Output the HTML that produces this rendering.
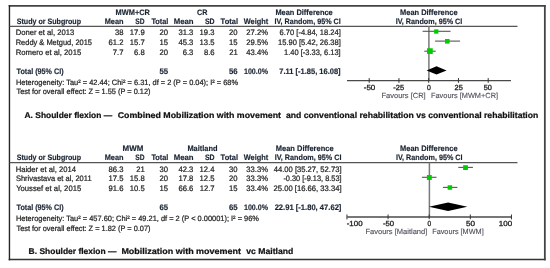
<!DOCTYPE html>
<html><head><meta charset="utf-8"><title>Forest plots</title>
<style>
html,body{margin:0;padding:0;background:#fff;}
body{width:550px;height:268px;overflow:hidden;}
svg{display:block;}
text{font-family:"Liberation Sans",Arial,sans-serif;text-rendering:geometricPrecision;}
</style></head><body>
<svg width="550" height="268" viewBox="0 0 550 268">
<rect x="0" y="0" width="550" height="268" fill="#fff"/>
<path d="M8.7 5.9H545.7" stroke="#444" stroke-width="1.8"/>
<path d="M8.7 259.6H545.7" stroke="#333" stroke-width="1.5"/>
<path d="M9.45 5V260.35" stroke="#262626" stroke-width="1.4"/>
<path d="M544.85 5V260.35" stroke="#444" stroke-width="1.8"/>
<text x="115.61" y="14.50" font-size="7.85" font-weight="bold" stroke="#1b2433" stroke-width="0.16" fill="#1b2433" textLength="34.25" lengthAdjust="spacingAndGlyphs">MWM+CR</text>
<text x="197.00" y="14.50" font-size="7.85" font-weight="bold" stroke="#1b2433" stroke-width="0.16" fill="#1b2433" textLength="10.45" lengthAdjust="spacingAndGlyphs">CR</text>
<text x="275.40" y="14.50" font-size="7.85" font-weight="bold" stroke="#1b2433" stroke-width="0.16" fill="#1b2433" textLength="57.35" lengthAdjust="spacingAndGlyphs">Mean Difference</text>
<text x="400.10" y="14.50" font-size="7.85" font-weight="bold" stroke="#1b2433" stroke-width="0.16" fill="#1b2433" textLength="57.45" lengthAdjust="spacingAndGlyphs">Mean Difference</text>
<text x="16.79" y="23.90" font-size="7.85" font-weight="bold" stroke="#1b2433" stroke-width="0.16" fill="#1b2433" textLength="64.19" lengthAdjust="spacingAndGlyphs">Study or Subgroup</text>
<text x="104.71" y="23.90" font-size="7.85" font-weight="bold" stroke="#1b2433" stroke-width="0.16" fill="#1b2433" textLength="18.85" lengthAdjust="spacingAndGlyphs">Mean</text>
<text x="135.31" y="23.90" font-size="7.85" font-weight="bold" stroke="#1b2433" stroke-width="0.16" fill="#1b2433" textLength="9.28" lengthAdjust="spacingAndGlyphs">SD</text>
<text x="151.42" y="23.90" font-size="7.85" font-weight="bold" stroke="#1b2433" stroke-width="0.16" fill="#1b2433" textLength="17.00" lengthAdjust="spacingAndGlyphs">Total</text>
<text x="173.68" y="23.90" font-size="7.85" font-weight="bold" stroke="#1b2433" stroke-width="0.16" fill="#1b2433" textLength="19.91" lengthAdjust="spacingAndGlyphs">Mean</text>
<text x="204.90" y="23.90" font-size="7.85" font-weight="bold" stroke="#1b2433" stroke-width="0.16" fill="#1b2433" textLength="9.70" lengthAdjust="spacingAndGlyphs">SD</text>
<text x="220.62" y="23.90" font-size="7.85" font-weight="bold" stroke="#1b2433" stroke-width="0.16" fill="#1b2433" textLength="17.41" lengthAdjust="spacingAndGlyphs">Total</text>
<text x="243.69" y="23.90" font-size="7.85" font-weight="bold" stroke="#1b2433" stroke-width="0.16" fill="#1b2433" textLength="24.50" lengthAdjust="spacingAndGlyphs">Weight</text>
<text x="274.42" y="23.90" font-size="7.85" font-weight="bold" stroke="#1b2433" stroke-width="0.16" fill="#1b2433" textLength="66.26" lengthAdjust="spacingAndGlyphs">IV, Random, 95% CI</text>
<text x="395.72" y="23.90" font-size="7.85" font-weight="bold" stroke="#1b2433" stroke-width="0.16" fill="#1b2433" textLength="66.56" lengthAdjust="spacingAndGlyphs">IV, Random, 95% CI</text>
<line x1="9.5" y1="26.3" x2="517.5" y2="26.3" stroke="#555" stroke-width="1.3"/>
<text x="15.67" y="35.30" font-size="7.9" stroke="#222" stroke-width="0.22" fill="#222" textLength="58.66" lengthAdjust="spacingAndGlyphs">Doner et al, 2013</text>
<text x="114.91" y="35.30" font-size="7.9" stroke="#222" stroke-width="0.22" fill="#222" textLength="8.52" lengthAdjust="spacingAndGlyphs">38</text>
<text x="129.85" y="35.30" font-size="7.9" stroke="#222" stroke-width="0.22" fill="#222" textLength="14.91" lengthAdjust="spacingAndGlyphs">17.9</text>
<text x="159.58" y="35.30" font-size="7.9" stroke="#222" stroke-width="0.22" fill="#222" textLength="8.52" lengthAdjust="spacingAndGlyphs">20</text>
<text x="178.42" y="35.30" font-size="7.9" stroke="#222" stroke-width="0.22" fill="#222" textLength="14.91" lengthAdjust="spacingAndGlyphs">31.3</text>
<text x="199.62" y="35.30" font-size="7.9" stroke="#222" stroke-width="0.22" fill="#222" textLength="14.91" lengthAdjust="spacingAndGlyphs">19.3</text>
<text x="229.08" y="35.30" font-size="7.9" stroke="#222" stroke-width="0.22" fill="#222" textLength="8.52" lengthAdjust="spacingAndGlyphs">20</text>
<text x="246.34" y="35.30" font-size="7.9" stroke="#222" stroke-width="0.22" fill="#222" textLength="21.73" lengthAdjust="spacingAndGlyphs">27.2%</text>
<text x="279.52" y="35.30" font-size="7.9" stroke="#222" stroke-width="0.22" fill="#222" textLength="61.22" lengthAdjust="spacingAndGlyphs">6.70 [-4.84, 18.24]</text>
<text x="15.69" y="45.00" font-size="7.9" stroke="#222" stroke-width="0.22" fill="#222" textLength="76.33" lengthAdjust="spacingAndGlyphs">Reddy &amp; Metgud, 2015</text>
<text x="108.57" y="45.00" font-size="7.9" stroke="#222" stroke-width="0.22" fill="#222" textLength="14.91" lengthAdjust="spacingAndGlyphs">61.2</text>
<text x="129.87" y="45.00" font-size="7.9" stroke="#222" stroke-width="0.22" fill="#222" textLength="14.91" lengthAdjust="spacingAndGlyphs">15.7</text>
<text x="159.60" y="45.00" font-size="7.9" stroke="#222" stroke-width="0.22" fill="#222" textLength="8.52" lengthAdjust="spacingAndGlyphs">15</text>
<text x="178.42" y="45.00" font-size="7.9" stroke="#222" stroke-width="0.22" fill="#222" textLength="14.91" lengthAdjust="spacingAndGlyphs">45.3</text>
<text x="199.61" y="45.00" font-size="7.9" stroke="#222" stroke-width="0.22" fill="#222" textLength="14.91" lengthAdjust="spacingAndGlyphs">13.5</text>
<text x="229.10" y="45.00" font-size="7.9" stroke="#222" stroke-width="0.22" fill="#222" textLength="8.52" lengthAdjust="spacingAndGlyphs">15</text>
<text x="246.34" y="45.00" font-size="7.9" stroke="#222" stroke-width="0.22" fill="#222" textLength="21.73" lengthAdjust="spacingAndGlyphs">29.5%</text>
<text x="278.03" y="45.00" font-size="7.9" stroke="#222" stroke-width="0.22" fill="#222" textLength="62.70" lengthAdjust="spacingAndGlyphs">15.90 [5.42, 26.38]</text>
<text x="15.67" y="54.90" font-size="7.9" stroke="#222" stroke-width="0.22" fill="#222" textLength="65.56" lengthAdjust="spacingAndGlyphs">Romero et al, 2015</text>
<text x="112.83" y="54.90" font-size="7.9" stroke="#222" stroke-width="0.22" fill="#222" textLength="10.65" lengthAdjust="spacingAndGlyphs">7.7</text>
<text x="134.08" y="54.90" font-size="7.9" stroke="#222" stroke-width="0.22" fill="#222" textLength="10.65" lengthAdjust="spacingAndGlyphs">6.8</text>
<text x="159.58" y="54.90" font-size="7.9" stroke="#222" stroke-width="0.22" fill="#222" textLength="8.52" lengthAdjust="spacingAndGlyphs">20</text>
<text x="182.69" y="54.90" font-size="7.9" stroke="#222" stroke-width="0.22" fill="#222" textLength="10.65" lengthAdjust="spacingAndGlyphs">6.3</text>
<text x="203.89" y="54.90" font-size="7.9" stroke="#222" stroke-width="0.22" fill="#222" textLength="10.65" lengthAdjust="spacingAndGlyphs">8.6</text>
<text x="229.15" y="54.90" font-size="7.9" stroke="#222" stroke-width="0.22" fill="#222" textLength="8.52" lengthAdjust="spacingAndGlyphs">21</text>
<text x="246.34" y="54.90" font-size="7.9" stroke="#222" stroke-width="0.22" fill="#222" textLength="21.73" lengthAdjust="spacingAndGlyphs">43.4%</text>
<text x="284.03" y="54.90" font-size="7.9" stroke="#222" stroke-width="0.22" fill="#222" textLength="56.70" lengthAdjust="spacingAndGlyphs">1.40 [-3.33, 6.13]</text>
<text x="16.52" y="73.80" font-size="8.0" font-weight="bold" stroke="#1b2433" stroke-width="0.16" fill="#1b2433" textLength="47.14" lengthAdjust="spacingAndGlyphs">Total (95% CI)</text>
<text x="159.39" y="73.80" font-size="8.0" font-weight="bold" stroke="#1b2433" stroke-width="0.16" fill="#1b2433" textLength="8.63" lengthAdjust="spacingAndGlyphs">55</text>
<text x="228.95" y="73.80" font-size="8.0" font-weight="bold" stroke="#1b2433" stroke-width="0.16" fill="#1b2433" textLength="8.63" lengthAdjust="spacingAndGlyphs">56</text>
<text x="243.95" y="73.80" font-size="8.0" font-weight="bold" stroke="#1b2433" stroke-width="0.16" fill="#1b2433" textLength="24.04" lengthAdjust="spacingAndGlyphs">100.0%</text>
<text x="279.28" y="73.80" font-size="8.0" font-weight="bold" stroke="#1b2433" stroke-width="0.16" fill="#1b2433" textLength="61.35" lengthAdjust="spacingAndGlyphs">7.11 [-1.85, 16.08]</text>
<text x="15.99" y="84.80" font-size="7.7" stroke="#222" stroke-width="0.22" fill="#222" textLength="222.07" lengthAdjust="spacingAndGlyphs">Heterogeneity: Tau² = 42.44; Chi² = 6.31, df = 2 (P = 0.04); I² = 68%</text>
<text x="16.44" y="94.20" font-size="7.7" stroke="#222" stroke-width="0.22" fill="#222" textLength="134.12" lengthAdjust="spacingAndGlyphs">Test for overall effect: Z = 1.55 (P = 0.12)</text>
<line x1="428.9" y1="26.3" x2="428.9" y2="80.6" stroke="#7a7a7a" stroke-width="1.5"/>
<line x1="347.0" y1="80.6" x2="511.0" y2="80.6" stroke="#4a4a4a" stroke-width="1.4"/>
<line x1="369.2" y1="78.1" x2="369.2" y2="82.8" stroke="#333" stroke-width="1.0"/>
<text x="363.75" y="89.60" font-size="7.4" stroke="#222" stroke-width="0.3" fill="#222" textLength="11.57" lengthAdjust="spacingAndGlyphs">-50</text>
<line x1="398.95" y1="78.1" x2="398.95" y2="82.8" stroke="#333" stroke-width="1.0"/>
<text x="393.37" y="89.60" font-size="7.4" stroke="#222" stroke-width="0.3" fill="#222" textLength="10.85" lengthAdjust="spacingAndGlyphs">-25</text>
<line x1="428.7" y1="78.1" x2="428.7" y2="82.8" stroke="#333" stroke-width="1.0"/>
<text x="427.03" y="89.60" font-size="7.4" stroke="#222" stroke-width="0.3" fill="#222" textLength="3.84" lengthAdjust="spacingAndGlyphs">0</text>
<line x1="458.45" y1="78.1" x2="458.45" y2="82.8" stroke="#333" stroke-width="1.0"/>
<text x="454.53" y="89.60" font-size="7.4" stroke="#222" stroke-width="0.3" fill="#222" textLength="8.29" lengthAdjust="spacingAndGlyphs">25</text>
<line x1="488.2" y1="78.1" x2="488.2" y2="82.8" stroke="#333" stroke-width="1.0"/>
<text x="483.71" y="89.60" font-size="7.4" stroke="#222" stroke-width="0.3" fill="#222" textLength="8.18" lengthAdjust="spacingAndGlyphs">50</text>
<text x="381.49" y="98.00" font-size="7.4" stroke="#524e5c" stroke-width="0.12" fill="#524e5c" textLength="44.15" lengthAdjust="spacingAndGlyphs">Favours [CR]</text>
<text x="430.99" y="98.00" font-size="7.4" stroke="#524e5c" stroke-width="0.12" fill="#524e5c" textLength="67.03" lengthAdjust="spacingAndGlyphs">Favours [MWM+CR]</text>
<line x1="422.6" y1="31.3" x2="450.5" y2="31.3" stroke="#555" stroke-width="1.1"/>
<rect x="434.10" y="29.35" width="4.30" height="4.30" fill="#00cc00"/>
<line x1="435.1" y1="41.1" x2="460.0" y2="41.1" stroke="#555" stroke-width="1.1"/>
<rect x="445.00" y="39.00" width="4.60" height="4.60" fill="#00cc00"/>
<line x1="424.3" y1="51.2" x2="435.7" y2="51.2" stroke="#555" stroke-width="1.1"/>
<rect x="427.05" y="48.25" width="5.70" height="5.70" fill="#00cc00"/>
<polygon points="426.60,70.40 436.50,66.20 446.60,70.40 436.50,74.60" fill="#000"/>
<text x="24.49" y="118.00" font-size="8.3" font-weight="bold" stroke="#111" stroke-width="0.22" fill="#111" textLength="87.61" lengthAdjust="spacingAndGlyphs">A. Shoulder flexion —</text>
<text x="117.74" y="118.00" font-size="8.3" font-weight="bold" stroke="#111" stroke-width="0.22" fill="#111" textLength="163.27" lengthAdjust="spacingAndGlyphs">Combined Mobilization with movement</text>
<text x="285.95" y="118.00" font-size="8.3" font-weight="bold" stroke="#111" stroke-width="0.22" fill="#111" textLength="252.39" lengthAdjust="spacingAndGlyphs">and conventional rehabilitation vs conventional rehabilitation</text>
<text x="122.57" y="150.90" font-size="7.85" font-weight="bold" stroke="#1b2433" stroke-width="0.16" fill="#1b2433" textLength="20.77" lengthAdjust="spacingAndGlyphs">MWM</text>
<text x="187.40" y="150.90" font-size="7.85" font-weight="bold" stroke="#1b2433" stroke-width="0.16" fill="#1b2433" textLength="30.08" lengthAdjust="spacingAndGlyphs">Maitland</text>
<text x="275.80" y="150.90" font-size="7.85" font-weight="bold" stroke="#1b2433" stroke-width="0.16" fill="#1b2433" textLength="57.75" lengthAdjust="spacingAndGlyphs">Mean Difference</text>
<text x="400.10" y="150.90" font-size="7.85" font-weight="bold" stroke="#1b2433" stroke-width="0.16" fill="#1b2433" textLength="57.45" lengthAdjust="spacingAndGlyphs">Mean Difference</text>
<text x="16.79" y="160.30" font-size="7.85" font-weight="bold" stroke="#1b2433" stroke-width="0.16" fill="#1b2433" textLength="64.19" lengthAdjust="spacingAndGlyphs">Study or Subgroup</text>
<text x="104.71" y="160.30" font-size="7.85" font-weight="bold" stroke="#1b2433" stroke-width="0.16" fill="#1b2433" textLength="18.85" lengthAdjust="spacingAndGlyphs">Mean</text>
<text x="135.31" y="160.30" font-size="7.85" font-weight="bold" stroke="#1b2433" stroke-width="0.16" fill="#1b2433" textLength="9.28" lengthAdjust="spacingAndGlyphs">SD</text>
<text x="151.42" y="160.30" font-size="7.85" font-weight="bold" stroke="#1b2433" stroke-width="0.16" fill="#1b2433" textLength="17.00" lengthAdjust="spacingAndGlyphs">Total</text>
<text x="173.68" y="160.30" font-size="7.85" font-weight="bold" stroke="#1b2433" stroke-width="0.16" fill="#1b2433" textLength="19.91" lengthAdjust="spacingAndGlyphs">Mean</text>
<text x="204.90" y="160.30" font-size="7.85" font-weight="bold" stroke="#1b2433" stroke-width="0.16" fill="#1b2433" textLength="9.70" lengthAdjust="spacingAndGlyphs">SD</text>
<text x="220.62" y="160.30" font-size="7.85" font-weight="bold" stroke="#1b2433" stroke-width="0.16" fill="#1b2433" textLength="17.41" lengthAdjust="spacingAndGlyphs">Total</text>
<text x="243.69" y="160.30" font-size="7.85" font-weight="bold" stroke="#1b2433" stroke-width="0.16" fill="#1b2433" textLength="24.50" lengthAdjust="spacingAndGlyphs">Weight</text>
<text x="274.66" y="160.30" font-size="7.85" font-weight="bold" stroke="#1b2433" stroke-width="0.16" fill="#1b2433" textLength="66.83" lengthAdjust="spacingAndGlyphs">IV, Random, 95% CI</text>
<text x="395.96" y="160.30" font-size="7.85" font-weight="bold" stroke="#1b2433" stroke-width="0.16" fill="#1b2433" textLength="66.56" lengthAdjust="spacingAndGlyphs">IV, Random, 95% CI</text>
<line x1="9.5" y1="162.70000000000002" x2="517.5" y2="162.70000000000002" stroke="#555" stroke-width="1.3"/>
<text x="15.67" y="171.70" font-size="7.9" stroke="#222" stroke-width="0.22" fill="#222" textLength="60.25" lengthAdjust="spacingAndGlyphs">Haider et al, 2014</text>
<text x="108.52" y="171.70" font-size="7.9" stroke="#222" stroke-width="0.22" fill="#222" textLength="14.91" lengthAdjust="spacingAndGlyphs">86.3</text>
<text x="136.25" y="171.70" font-size="7.9" stroke="#222" stroke-width="0.22" fill="#222" textLength="8.52" lengthAdjust="spacingAndGlyphs">21</text>
<text x="159.58" y="171.70" font-size="7.9" stroke="#222" stroke-width="0.22" fill="#222" textLength="8.52" lengthAdjust="spacingAndGlyphs">30</text>
<text x="178.42" y="171.70" font-size="7.9" stroke="#222" stroke-width="0.22" fill="#222" textLength="14.91" lengthAdjust="spacingAndGlyphs">42.3</text>
<text x="199.51" y="171.70" font-size="7.9" stroke="#222" stroke-width="0.22" fill="#222" textLength="14.91" lengthAdjust="spacingAndGlyphs">12.4</text>
<text x="229.08" y="171.70" font-size="7.9" stroke="#222" stroke-width="0.22" fill="#222" textLength="8.52" lengthAdjust="spacingAndGlyphs">30</text>
<text x="246.34" y="171.70" font-size="7.9" stroke="#222" stroke-width="0.22" fill="#222" textLength="21.73" lengthAdjust="spacingAndGlyphs">33.3%</text>
<text x="273.72" y="171.70" font-size="7.9" stroke="#222" stroke-width="0.22" fill="#222" textLength="67.81" lengthAdjust="spacingAndGlyphs">44.00 [35.27, 52.73]</text>
<text x="15.96" y="181.40" font-size="7.9" stroke="#222" stroke-width="0.22" fill="#222" textLength="75.60" lengthAdjust="spacingAndGlyphs">Shrivastava et al, 2011</text>
<text x="108.51" y="181.40" font-size="7.9" stroke="#222" stroke-width="0.22" fill="#222" textLength="14.91" lengthAdjust="spacingAndGlyphs">17.5</text>
<text x="129.82" y="181.40" font-size="7.9" stroke="#222" stroke-width="0.22" fill="#222" textLength="14.91" lengthAdjust="spacingAndGlyphs">15.8</text>
<text x="159.58" y="181.40" font-size="7.9" stroke="#222" stroke-width="0.22" fill="#222" textLength="8.52" lengthAdjust="spacingAndGlyphs">20</text>
<text x="178.42" y="181.40" font-size="7.9" stroke="#222" stroke-width="0.22" fill="#222" textLength="14.91" lengthAdjust="spacingAndGlyphs">17.8</text>
<text x="199.61" y="181.40" font-size="7.9" stroke="#222" stroke-width="0.22" fill="#222" textLength="14.91" lengthAdjust="spacingAndGlyphs">12.5</text>
<text x="229.08" y="181.40" font-size="7.9" stroke="#222" stroke-width="0.22" fill="#222" textLength="8.52" lengthAdjust="spacingAndGlyphs">20</text>
<text x="246.34" y="181.40" font-size="7.9" stroke="#222" stroke-width="0.22" fill="#222" textLength="21.73" lengthAdjust="spacingAndGlyphs">33.3%</text>
<text x="283.38" y="181.40" font-size="7.9" stroke="#222" stroke-width="0.22" fill="#222" textLength="58.15" lengthAdjust="spacingAndGlyphs">-0.30 [-9.13, 8.53]</text>
<text x="16.13" y="191.30" font-size="7.9" stroke="#222" stroke-width="0.22" fill="#222" textLength="65.09" lengthAdjust="spacingAndGlyphs">Youssef et al, 2015</text>
<text x="108.52" y="191.30" font-size="7.9" stroke="#222" stroke-width="0.22" fill="#222" textLength="14.91" lengthAdjust="spacingAndGlyphs">91.6</text>
<text x="129.81" y="191.30" font-size="7.9" stroke="#222" stroke-width="0.22" fill="#222" textLength="14.91" lengthAdjust="spacingAndGlyphs">10.5</text>
<text x="159.60" y="191.30" font-size="7.9" stroke="#222" stroke-width="0.22" fill="#222" textLength="8.52" lengthAdjust="spacingAndGlyphs">15</text>
<text x="178.42" y="191.30" font-size="7.9" stroke="#222" stroke-width="0.22" fill="#222" textLength="14.91" lengthAdjust="spacingAndGlyphs">66.6</text>
<text x="199.67" y="191.30" font-size="7.9" stroke="#222" stroke-width="0.22" fill="#222" textLength="14.91" lengthAdjust="spacingAndGlyphs">12.7</text>
<text x="229.10" y="191.30" font-size="7.9" stroke="#222" stroke-width="0.22" fill="#222" textLength="8.52" lengthAdjust="spacingAndGlyphs">15</text>
<text x="246.34" y="191.30" font-size="7.9" stroke="#222" stroke-width="0.22" fill="#222" textLength="21.73" lengthAdjust="spacingAndGlyphs">33.4%</text>
<text x="273.52" y="191.30" font-size="7.9" stroke="#222" stroke-width="0.22" fill="#222" textLength="68.02" lengthAdjust="spacingAndGlyphs">25.00 [16.66, 33.34]</text>
<text x="16.52" y="210.20" font-size="8.0" font-weight="bold" stroke="#1b2433" stroke-width="0.16" fill="#1b2433" textLength="47.14" lengthAdjust="spacingAndGlyphs">Total (95% CI)</text>
<text x="159.39" y="210.20" font-size="8.0" font-weight="bold" stroke="#1b2433" stroke-width="0.16" fill="#1b2433" textLength="8.63" lengthAdjust="spacingAndGlyphs">65</text>
<text x="228.89" y="210.20" font-size="8.0" font-weight="bold" stroke="#1b2433" stroke-width="0.16" fill="#1b2433" textLength="8.63" lengthAdjust="spacingAndGlyphs">65</text>
<text x="243.95" y="210.20" font-size="8.0" font-weight="bold" stroke="#1b2433" stroke-width="0.16" fill="#1b2433" textLength="24.04" lengthAdjust="spacingAndGlyphs">100.0%</text>
<text x="274.63" y="210.20" font-size="8.0" font-weight="bold" stroke="#1b2433" stroke-width="0.16" fill="#1b2433" textLength="66.79" lengthAdjust="spacingAndGlyphs">22.91 [-1.80, 47.62]</text>
<text x="15.99" y="221.20" font-size="7.7" stroke="#222" stroke-width="0.22" fill="#222" textLength="242.97" lengthAdjust="spacingAndGlyphs">Heterogeneity: Tau² = 457.60; Chi² = 49.21, df = 2 (P &lt; 0.00001); I² = 96%</text>
<text x="16.44" y="230.60" font-size="7.7" stroke="#222" stroke-width="0.22" fill="#222" textLength="134.12" lengthAdjust="spacingAndGlyphs">Test for overall effect: Z = 1.82 (P = 0.07)</text>
<line x1="429.4" y1="162.70000000000002" x2="429.4" y2="217.0" stroke="#7a7a7a" stroke-width="1.5"/>
<line x1="347.2" y1="217.0" x2="512.0" y2="217.0" stroke="#4a4a4a" stroke-width="1.4"/>
<line x1="346.95" y1="214.5" x2="346.95" y2="219.4" stroke="#333" stroke-width="1.0"/>
<text x="346.75" y="226.00" font-size="7.4" stroke="#222" stroke-width="0.3" fill="#222" textLength="15.76" lengthAdjust="spacingAndGlyphs">-100</text>
<line x1="388.075" y1="214.5" x2="388.075" y2="219.2" stroke="#333" stroke-width="1.0"/>
<text x="382.96" y="226.00" font-size="7.4" stroke="#222" stroke-width="0.3" fill="#222" textLength="11.14" lengthAdjust="spacingAndGlyphs">-50</text>
<line x1="429.2" y1="214.5" x2="429.2" y2="219.2" stroke="#333" stroke-width="1.0"/>
<text x="427.45" y="226.00" font-size="7.4" stroke="#222" stroke-width="0.3" fill="#222" textLength="3.61" lengthAdjust="spacingAndGlyphs">0</text>
<line x1="470.325" y1="214.5" x2="470.325" y2="219.2" stroke="#333" stroke-width="1.0"/>
<text x="466.07" y="226.00" font-size="7.4" stroke="#222" stroke-width="0.3" fill="#222" textLength="9.04" lengthAdjust="spacingAndGlyphs">50</text>
<line x1="511.45" y1="214.5" x2="511.45" y2="219.4" stroke="#333" stroke-width="1.0"/>
<text x="498.79" y="226.00" font-size="7.4" stroke="#222" stroke-width="0.3" fill="#222" textLength="13.32" lengthAdjust="spacingAndGlyphs">100</text>
<text x="365.48" y="234.40" font-size="7.4" stroke="#524e5c" stroke-width="0.12" fill="#524e5c" textLength="61.85" lengthAdjust="spacingAndGlyphs">Favours [Maitland]</text>
<text x="432.20" y="234.40" font-size="7.4" stroke="#524e5c" stroke-width="0.12" fill="#524e5c" textLength="51.51" lengthAdjust="spacingAndGlyphs">Favours [MWM]</text>
<line x1="458.3" y1="167.4" x2="472.9" y2="167.4" stroke="#555" stroke-width="1.1"/>
<rect x="463.10" y="165.20" width="4.80" height="4.80" fill="#00cc00"/>
<line x1="421.9" y1="177.3" x2="436.5" y2="177.3" stroke="#555" stroke-width="1.1"/>
<rect x="426.90" y="175.05" width="4.90" height="4.90" fill="#00cc00"/>
<line x1="442.9" y1="187.4" x2="457.4" y2="187.4" stroke="#555" stroke-width="1.1"/>
<rect x="447.65" y="185.25" width="4.50" height="4.50" fill="#00cc00"/>
<polygon points="428.90,206.80 448.10,202.60 467.40,206.80 448.10,211.00" fill="#000"/>
<text x="28.63" y="253.80" font-size="8.3" font-weight="bold" stroke="#111" stroke-width="0.22" fill="#111" textLength="87.86" lengthAdjust="spacingAndGlyphs">B. Shoulder flexion —</text>
<text x="121.40" y="253.80" font-size="8.3" font-weight="bold" stroke="#111" stroke-width="0.22" fill="#111" textLength="119.60" lengthAdjust="spacingAndGlyphs">Mobilization with movement</text>
<text x="246.27" y="253.80" font-size="8.3" font-weight="bold" stroke="#111" stroke-width="0.22" fill="#111" textLength="47.00" lengthAdjust="spacingAndGlyphs">vc Maitland</text>
</svg>
</body></html>
